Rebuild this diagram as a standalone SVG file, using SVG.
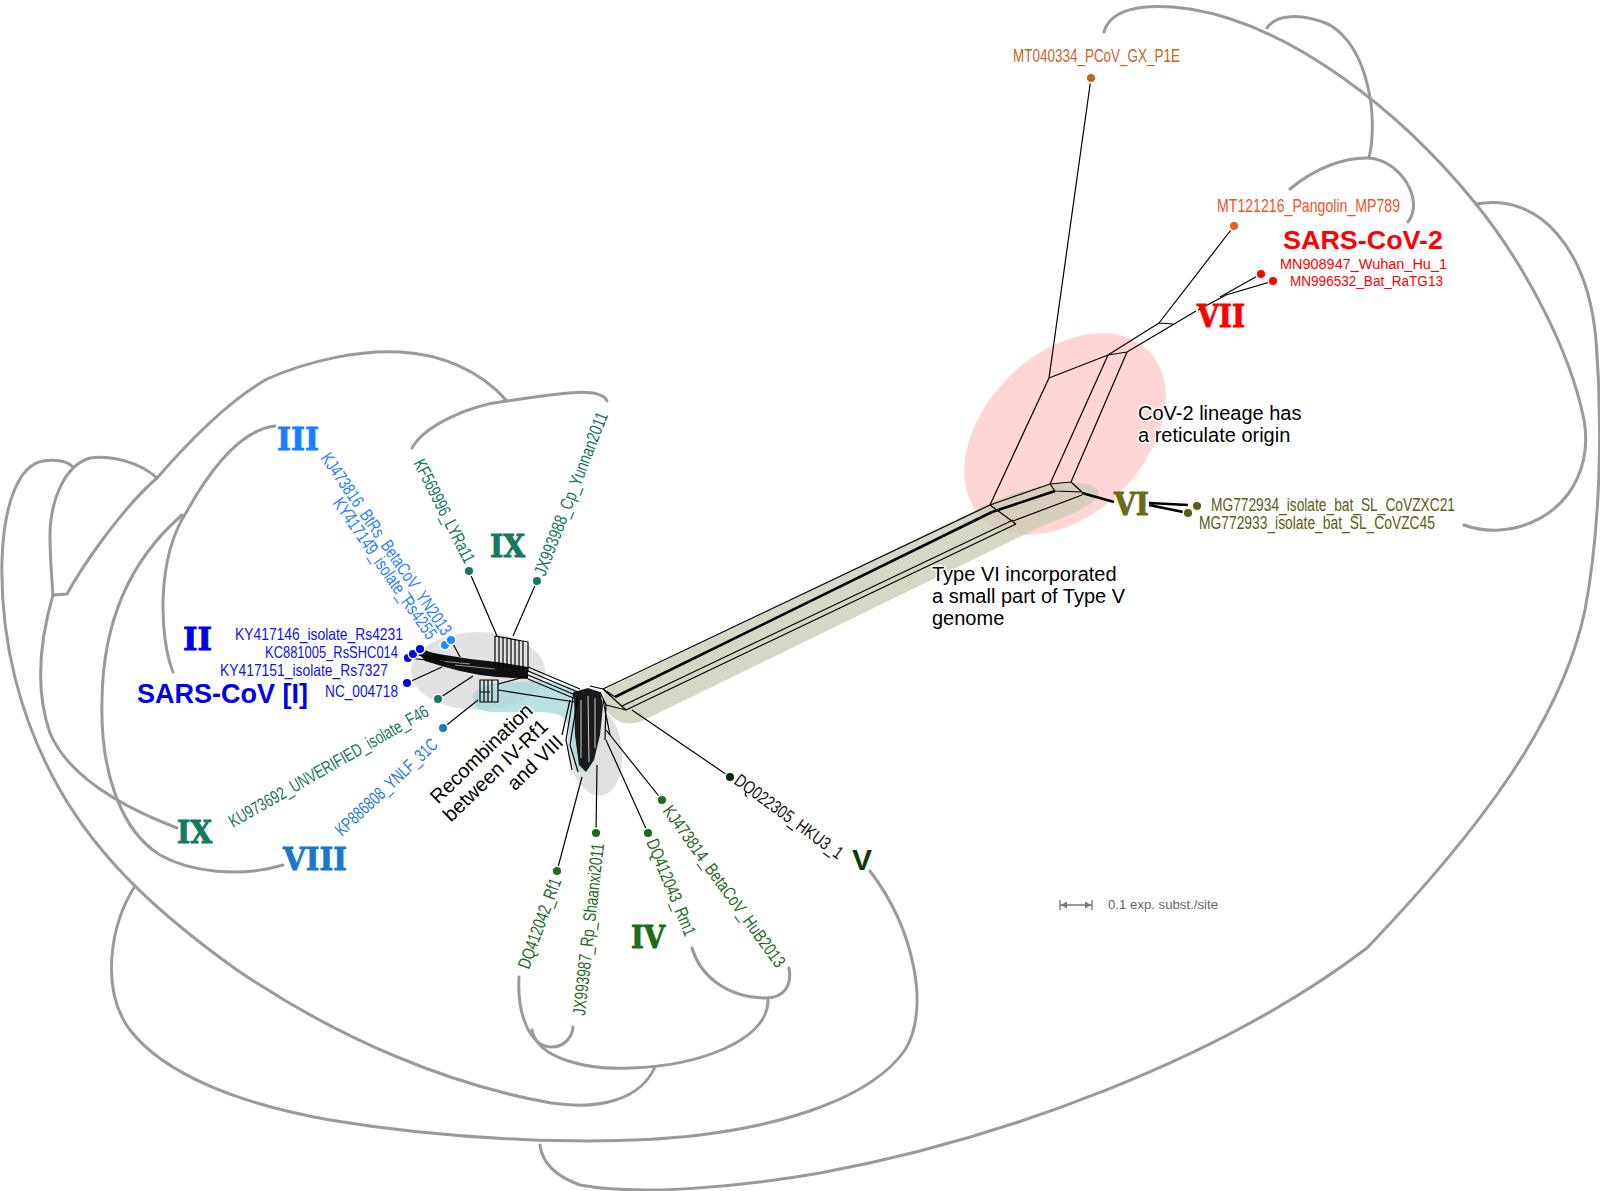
<svg xmlns="http://www.w3.org/2000/svg" width="1600" height="1191" viewBox="0 0 1600 1191">
<style>
.arc{fill:none;stroke:#9a9a9a;stroke-width:3;stroke-linecap:round}
.net{fill:none;stroke:#000;stroke-width:1.2;stroke-linejoin:round}
.thick{stroke-width:2.6}
.lf{font-family:"Liberation Sans",Arial,sans-serif;font-size:18px}
.sm{font-size:16.5px}
.xs{font-size:15.5px}
.rn{font-family:"DejaVu Serif","Liberation Serif",serif;font-weight:bold;font-size:31px;stroke-width:0.9px}
.bs{font-family:"Liberation Sans",Arial,sans-serif;font-weight:bold}
.ann{font-family:"Liberation Sans",Arial,sans-serif;font-size:20px;fill:#000;paint-order:stroke;stroke:#fff;stroke-width:3px;stroke-linejoin:round}
.dot{stroke:#fff;stroke-width:1.5}
</style>
<rect width="1600" height="1191" fill="#fff"/>

<!-- highlight regions -->
<g id="highlights">
<ellipse cx="1065" cy="434" rx="118" ry="80" transform="rotate(-45 1065 434)" fill="#ffd5d5"/>
<ellipse cx="478" cy="671" rx="67" ry="39" fill="#e2e2e2"/>
<ellipse cx="595" cy="750" rx="27" ry="46" transform="rotate(-8 595 750)" fill="#e0e0e0"/>
<path d="M473,700 C470,690 485,684 500,683 L540,681 C560,682 580,688 590,700 L592,760 C590,775 578,775 575,765 L568,725 C565,715 555,712 540,712 L500,712 C485,713 475,710 473,700 Z" fill="#a8dada" opacity="0.8"/>
<path d="M604,690 L990,503 C1040,480 1090,478 1098,490 C1104,502 1070,515 1040,527 L640,722 C620,728 600,715 604,690 Z" fill="#c9c9b4" opacity="0.75"/>
</g>

<!-- gray curved outline lines -->
<g id="arcs">
<path class="arc" d="M1104,32 C1110,10 1140,2 1190,9 C1290,25 1400,110 1476,204"/>
<path class="arc" d="M1267,28 C1275,15 1300,12 1330,25 C1370,50 1378,120 1369,158"/>
<path class="arc" d="M1290,189 C1315,168 1345,157 1369,158 C1400,160 1425,200 1408,222"/>
<path class="arc" d="M1476,204 C1525,265 1570,350 1584,420 C1594,475 1560,525 1500,530 C1485,531 1472,528 1464,525"/>
<path class="arc" d="M1476,204 C1540,192 1588,250 1596,340 C1603,430 1600,530 1585,610 C1562,720 1480,830 1367,948 C1220,1060 1000,1140 820,1173 C740,1187 640,1196 580,1185 C555,1176 542,1162 540,1145"/>
<path class="arc" d="M870,871 C915,930 930,1010 905,1050 C870,1100 780,1125 700,1135 C600,1147 450,1140 330,1120 C240,1104 165,1075 130,1030 C100,990 110,925 135,886"/>
<path class="arc" d="M655,1067 C640,1100 600,1110 551,1103 C450,1085 340,1040 237,970 C160,915 100,860 60,790 C20,720 0,640 2,560 C4,500 20,465 43,461 C58,459 68,462 73,467"/>
<path class="arc" d="M177,828 C130,810 70,780 50,733 C35,690 40,640 53,595"/>
<path class="arc" d="M53,595 L67,594 C80,570 120,510 157,478 C190,440 230,400 267,379 C310,360 360,350 400,352 C440,354 480,370 507,401"/>
<path class="arc" d="M157,478 C140,462 110,455 90,458 C65,465 50,500 50,536 C50,560 52,580 53,595"/>
<path class="arc" d="M412,448 C425,425 470,405 507,401 C550,395 600,385 607,401"/>
<path class="arc" d="M173,672 C160,640 155,560 187,511 C210,470 240,430 275,426"/>
<path class="arc" d="M283,865 C240,878 190,872 160,855 C120,830 100,770 102,700 C103,620 130,560 182,515"/>
<path class="arc" d="M519,977 C517,1015 530,1045 550,1047 C565,1048 573,1035 573,1027"/>
<path class="arc" d="M532,1030 C538,1060 590,1070 630,1068 C700,1066 768,1040 768,1000"/>
<path class="arc" d="M692,948 C700,975 725,997 765,998 C785,998 792,985 789,968"/>
</g>

<!-- network connectors -->
<g id="network">
<!-- left cluster -->
<path class="net" d="M469,571 L497,636 M537,581 L513,636 M451,640 L460,657 M407,683 L442,667 M438,699 L473,676 M443,728 L478,700"/>
<path d="M416,650 L445,655 L470,659 L497,662 L528,667 L528,679 L497,677 L480,675 L460,671 L445,667 L425,661 Z" fill="#111"/>
<path d="M440,661 L470,664 M455,665 L495,669" stroke="#bbb" stroke-width="0.8" fill="none"/>
<path class="net" d="M420,649 L445,658 M413,654 L445,660 M408,658 L445,662"/>
<path class="net" d="M495,636 L528,642 L528,672 M495,636 L495,666 M499,637 L499,667 M503,637 L503,667 M507,638 L507,668 M511,639 L511,668 M515,639 L515,669 M519,640 L519,670 M523,641 L523,671"/>
<path class="net" d="M480,680 L498,680 L498,702 L480,702 Z M484,680 L484,702 M488,680 L488,702 M492,680 L492,702 M480,692 L490,692 M498,684 L528,676 M498,690 L575,702"/>
<path class="net" d="M528,667 L580,689 M528,671 L580,693 M528,675 L580,697 M528,679 L578,700"/>
<!-- central knot -->
<path d="M574,692 L588,688 L600,692 L603,705 L600,735 L594,760 L586,772 L579,765 L575,735 Z" fill="#1a1a1a"/>
<path d="M581,700 L581,758 M588,696 L589,762 M595,698 L595,748" stroke="#fff" stroke-width="0.8" fill="none"/>
<path class="net" d="M574,692 L566,740 L572,770 M578,696 L570,745 L578,772 M570,700 L562,735 M600,692 L606,705 L605,740 M603,700 L610,735"/>
<path class="net" d="M557,871 L582,777 M596,833 L597,765 M648,833 L606,740 M662,800 L606,730 M730,777 L632,710"/>
<path class="net" d="M590,686 L603,689 L626,710 L606,705 M603,689 L615,697"/>
<!-- long branch -->
<path class="net" d="M603,689 L990,505"/>
<path class="net thick" d="M615,697 L992,512"/>
<path class="net" d="M622,706 L1013,520 M626,710 L1016,524 M990,505 L1016,524"/>
<!-- right reticulation -->
<path class="net" d="M1091,78 L1049,378 M1049,378 L990,505 M1049,378 L1108,355 L1127,352 M1108,355 L1159,323 L1234,226 M1127,352 L1196,311 M1159,323 L1173,324 M1220,297 L1261,274 M1226,295 L1273,281 M1108,355 L1050,484 M1127,352 L1071,482 M990,505 L1050,484 L1071,482 L1082,492 M1050,484 L1055,491 L1082,492 M1013,521 L1082,495"/>
<path class="net" d="M1198,310 L1226,295"/>
<path class="net thick" d="M992,512 L1055,491 M1082,493 L1114,502"/>
<path class="net thick" d="M1149,503 L1188,505 M1149,505 L1188,513"/>
</g>

<!-- leaf dots -->
<g id="dots">
<circle class="dot" cx="445" cy="645" r="4.8" fill="#1a8cff"/>
<circle class="dot" cx="451" cy="640" r="4.8" fill="#1a8cff"/>
<circle class="dot" cx="408" cy="658" r="4.8" fill="#0000ee"/>
<circle class="dot" cx="413" cy="654" r="4.8" fill="#0000ee"/>
<circle class="dot" cx="420" cy="649" r="4.8" fill="#0000ee"/>
<circle class="dot" cx="407" cy="683" r="4.8" fill="#0000ee"/>
<circle class="dot" cx="438" cy="699" r="4.8" fill="#137a5e"/>
<circle class="dot" cx="443" cy="728" r="4.8" fill="#1a7acc"/>
<circle class="dot" cx="469" cy="571" r="4.8" fill="#137a5e"/>
<circle class="dot" cx="537" cy="581" r="4.8" fill="#137a5e"/>
<circle class="dot" cx="557" cy="871" r="4.8" fill="#1e6b1e"/>
<circle class="dot" cx="596" cy="833" r="4.8" fill="#1e6b1e"/>
<circle class="dot" cx="648" cy="833" r="4.8" fill="#1e6b1e"/>
<circle class="dot" cx="662" cy="800" r="4.8" fill="#1e6b1e"/>
<circle class="dot" cx="730" cy="777" r="4.8" fill="#0b2a0b"/>
<circle class="dot" cx="1091" cy="78" r="4.8" fill="#c8641e"/>
<circle class="dot" cx="1234" cy="226" r="4.8" fill="#f05a28"/>
<circle class="dot" cx="1261" cy="274" r="4.8" fill="#ff0000"/>
<circle class="dot" cx="1273" cy="281" r="4.8" fill="#ff0000"/>
<circle class="dot" cx="1197" cy="506" r="4.8" fill="#5c5c14"/>
<circle class="dot" cx="1188" cy="513" r="4.8" fill="#5c5c14"/>
</g>

<!-- leaf labels -->
<g id="labels-I-II-III">
<text class="lf" fill="#2a7fff" transform="translate(320,458) rotate(55.5)" textLength="217" lengthAdjust="spacingAndGlyphs">KJ473816_BtRs_BetaCoV_YN2013</text>
<text class="lf" fill="#2a7fff" transform="translate(332,503) rotate(55.2)" textLength="168" lengthAdjust="spacingAndGlyphs">KY417149_isolate_Rs4255</text>
<text class="lf sm" fill="#1010ee" x="235" y="640" textLength="168" lengthAdjust="spacingAndGlyphs">KY417146_isolate_Rs4231</text>
<text class="lf sm" fill="#1010ee" x="265" y="658" textLength="133" lengthAdjust="spacingAndGlyphs">KC881005_RsSHC014</text>
<text class="lf sm" fill="#1010ee" x="220" y="676" textLength="168" lengthAdjust="spacingAndGlyphs">KY417151_isolate_Rs7327</text>
<text class="lf sm" fill="#1010ee" x="325" y="697" textLength="73" lengthAdjust="spacingAndGlyphs">NC_004718</text>
<text class="rn" fill="#1a7fff" stroke="#1a7fff" x="277" y="450" textLength="42" lengthAdjust="spacingAndGlyphs">III</text>
<text class="rn" fill="#0000ee" stroke="#0000ee" x="183" y="650" textLength="29" lengthAdjust="spacingAndGlyphs">II</text>
<text class="bs" fill="#0000ee" font-size="27" x="137" y="703" textLength="171" lengthAdjust="spacingAndGlyphs">SARS-CoV [I]</text>
</g>
<g id="labels-VIII-IX">
<text class="lf" fill="#16765a" transform="translate(413,463) rotate(63)" textLength="114" lengthAdjust="spacingAndGlyphs">KF569996_LYRa11</text>
<text class="lf" fill="#16765a" transform="translate(545,577) rotate(-68.7)" textLength="174" lengthAdjust="spacingAndGlyphs">JX993988_Cp_Yunnan2011</text>
<text class="lf" fill="#16765a" transform="translate(233,828) rotate(-29.8)" textLength="227" lengthAdjust="spacingAndGlyphs">KU973692_UNVERIFIED_isolate_F46</text>
<text class="lf" fill="#2a7ad0" transform="translate(342,837) rotate(-43.2)" textLength="133" lengthAdjust="spacingAndGlyphs">KP886808_YNLF_31C</text>
<text class="rn" fill="#137a5e" stroke="#137a5e" x="490" y="557" textLength="35" lengthAdjust="spacingAndGlyphs">IX</text>
<text class="rn" fill="#137a5e" stroke="#137a5e" x="177" y="843" textLength="35" lengthAdjust="spacingAndGlyphs">IX</text>
<text class="rn" fill="#1a78cc" stroke="#1a78cc" x="283" y="870" textLength="64" lengthAdjust="spacingAndGlyphs">VIII</text>
</g>
<g id="labels-IV-V">
<text class="lf" fill="#1e6b1e" transform="translate(529,970) rotate(-70)" textLength="95" lengthAdjust="spacingAndGlyphs">DQ412042_Rf1</text>
<text class="lf" fill="#1e6b1e" transform="translate(585,1016) rotate(-83.7)" textLength="173" lengthAdjust="spacingAndGlyphs">JX993987_Rp_Shaanxi2011</text>
<text class="lf" fill="#1e6b1e" transform="translate(646,842) rotate(67.6)" textLength="103" lengthAdjust="spacingAndGlyphs">DQ412043_Rm1</text>
<text class="lf" fill="#1e6b1e" transform="translate(662,811) rotate(54)" textLength="195" lengthAdjust="spacingAndGlyphs">KJ473814_BetaCoV_HuB2013</text>
<text class="lf" fill="#111" transform="translate(733,783) rotate(36.3)" textLength="130" lengthAdjust="spacingAndGlyphs">DQ022305_HKU3_1</text>
<text class="rn" fill="#1b6b1b" stroke="#1b6b1b" x="631" y="948" textLength="34" lengthAdjust="spacingAndGlyphs">IV</text>
<text class="bs" fill="#0b3a0b" font-size="30" x="852" y="870" textLength="20" lengthAdjust="spacingAndGlyphs">V</text>
</g>
<g id="labels-VI-VII">
<text class="lf" fill="#c8641e" x="1013" y="62" textLength="167" lengthAdjust="spacingAndGlyphs">MT040334_PCoV_GX_P1E</text>
<text class="lf" fill="#f0552a" x="1217" y="212" textLength="183" lengthAdjust="spacingAndGlyphs">MT121216_Pangolin_MP789</text>
<text class="bs" fill="#ff0000" font-size="26" x="1283" y="249" textLength="160" lengthAdjust="spacingAndGlyphs">SARS-CoV-2</text>
<text class="lf xs" fill="#ff0000" x="1280" y="269" textLength="167" lengthAdjust="spacingAndGlyphs">MN908947_Wuhan_Hu_1</text>
<text class="lf xs" fill="#ff0000" x="1290" y="286" textLength="153" lengthAdjust="spacingAndGlyphs">MN996532_Bat_RaTG13</text>
<text class="rn" fill="#ff0000" stroke="#ff0000" x="1197" y="327" textLength="48" lengthAdjust="spacingAndGlyphs">VII</text>
<text class="rn" fill="#6b6b14" stroke="#6b6b14" x="1114" y="515" textLength="35" lengthAdjust="spacingAndGlyphs">VI</text>
<text class="lf" fill="#5c5c14" x="1211" y="511" textLength="244" lengthAdjust="spacingAndGlyphs">MG772934_isolate_bat_SL_CoVZXC21</text>
<text class="lf" fill="#5c5c14" x="1199" y="529" textLength="236" lengthAdjust="spacingAndGlyphs">MG772933_isolate_bat_SL_CoVZC45</text>
</g>

<!-- annotations -->
<g id="annotations">
<text class="ann" x="1138" y="420">CoV-2 lineage has</text>
<text class="ann" x="1138" y="442">a reticulate origin</text>
<text class="ann" x="932" y="581">Type VI incorporated</text>
<text class="ann" x="932" y="603">a small part of Type V</text>
<text class="ann" x="932" y="625">genome</text>
<g transform="translate(534,712) rotate(-44)" text-anchor="end">
<text class="ann" x="0" y="0">Recombination</text>
<text class="ann" x="0" y="22">between IV-Rf1</text>
<text class="ann" x="0" y="44">and VIII</text>
</g>
</g>

<!-- scale bar -->
<g id="scale">
<path d="M1060,905 L1092,905 M1060,900 L1060,910 M1092,900 L1092,910" stroke="#777" stroke-width="1.3" fill="none"/>
<path d="M1061,905 L1067,901.5 L1067,908.5 Z M1091,905 L1085,901.5 L1085,908.5 Z" fill="#777"/>
<text x="1108" y="909" font-family="Liberation Sans,Arial,sans-serif" font-size="13" fill="#666" textLength="110" lengthAdjust="spacingAndGlyphs">0.1 exp. subst./site</text>
</g>
</svg>
